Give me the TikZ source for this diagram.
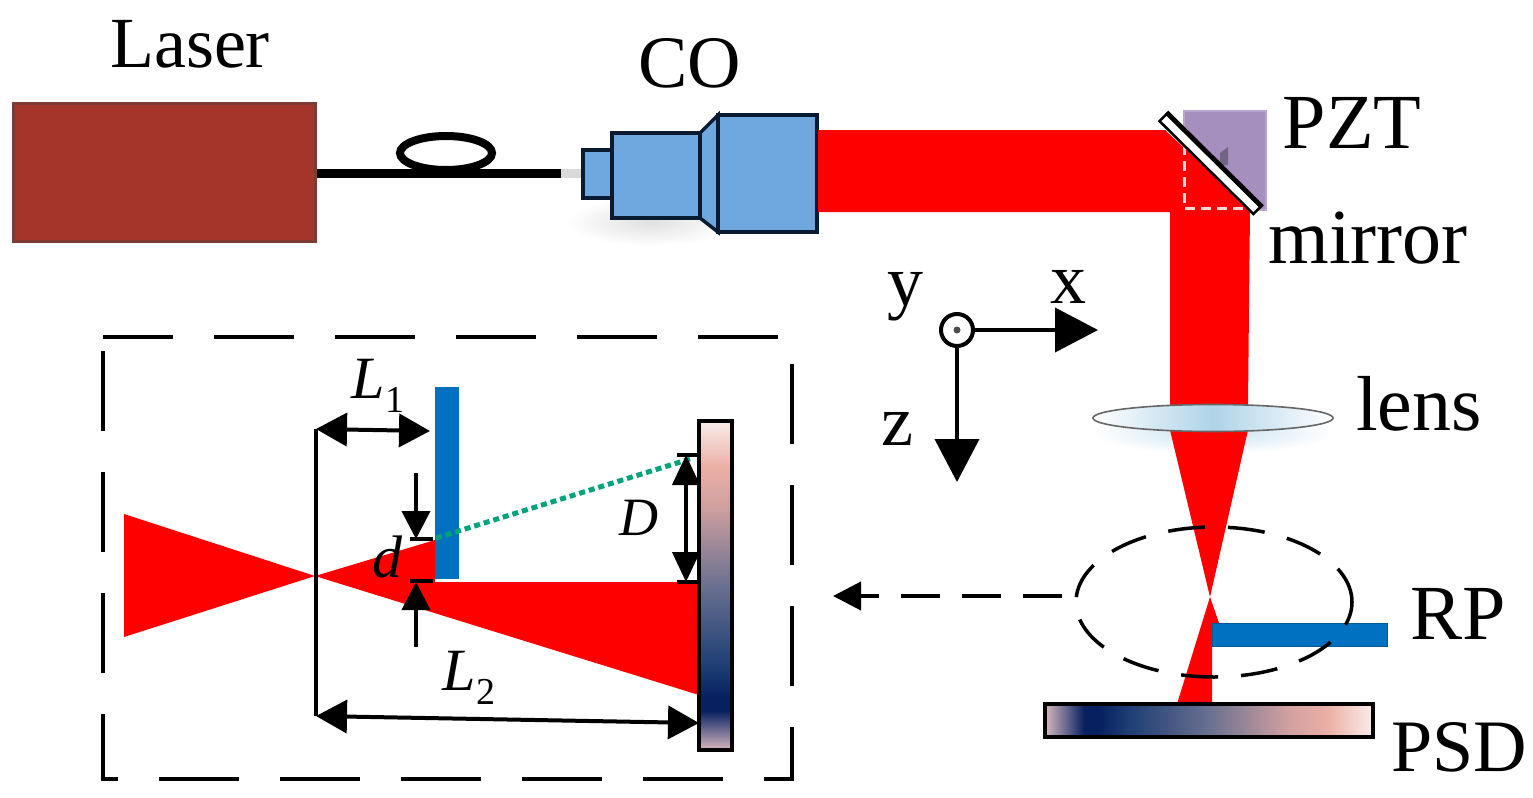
\documentclass[tikz,border=0pt]{standalone}
\usepackage{fontspec}
\setmainfont{Liberation Serif}
\usetikzlibrary{arrows.meta,shapes.geometric}
\definecolor{lasercol}{HTML}{A5342B}
\definecolor{laseredge}{HTML}{7E3A34}
\definecolor{cocol}{HTML}{6FA8DF}
\definecolor{coedge}{HTML}{0A1A30}
\definecolor{pztcol}{HTML}{A48FBF}
\definecolor{rpcol}{HTML}{0070C0}
\definecolor{rayred}{HTML}{FF0000}
\definecolor{raygreen}{HTML}{00A37A}
\definecolor{lensblue}{HTML}{AFD3E8}
\definecolor{psda}{HTML}{D8B8C0}
\definecolor{psdb}{HTML}{062060}
\definecolor{psdc}{HTML}{1F3F75}
\definecolor{psdd}{HTML}{6A7090}
\definecolor{psde}{HTML}{D0A0A0}
\definecolor{psdf}{HTML}{EBAFA5}
\definecolor{psdg}{HTML}{FAEDEA}
\pgfdeclarehorizontalshading{psdbar}{100bp}{color(0bp)=(psda); color(25bp)=(psda); color(31bp)=(psdb); color(33bp)=(psdb); color(38bp)=(psdc); color(50bp)=(psdd); color(62bp)=(psde); color(68bp)=(psdf); color(75bp)=(psdg); color(100bp)=(psdg)}
\pgfdeclarehorizontalshading{lensbar}{100bp}{color(0bp)=(white); color(25bp)=(white); color(50bp)=(lensblue); color(75bp)=(white); color(100bp)=(white)}
\newcommand{\lowidx}[1]{\raisebox{-7pt}{\fontsize{19pt}{19pt}\selectfont\normalfont #1}}
\tikzset{
  part/.style={draw=coedge,line width=1.75pt,inner sep=0pt},
  lbl/.style={font=\fontsize{39pt}{39pt}\selectfont,inner sep=0pt,anchor=base},
  axislbl/.style={font=\fontsize{36pt}{36pt}\selectfont,inner sep=0pt,anchor=base},
  sym/.style={font=\fontsize{30pt}{30pt}\selectfont\itshape,inner sep=0pt,anchor=base},
  dim/.style={line width=2pt},
  bigtip/.style={-{Triangle[length=21.5pt,width=22pt]}},
  doubletip/.style={{Triangle[length=15.5pt,width=16.5pt]}-{Triangle[length=15.5pt,width=16.5pt]}},
  smalltip/.style={-{Triangle[length=14pt,width=14pt]}},
  tick/.style={line width=1.75pt},
}
\begin{document}
\begin{tikzpicture}[x=0.5pt,y=-0.5pt]
\useasboundingbox (0,0) rectangle (1533,798);
% laser and fibre
\node[part,draw=laseredge,line width=1.5pt,fill=lasercol,minimum width=151pt,minimum height=69pt] (laser) at (164,172) {};
\node[lbl,font=\fontsize{36pt}{36pt}\selectfont] (lasertxt) at (190,67) {Laser};
\fill[black!15] (561,169) rectangle (583,178);
\draw[line width=4pt] (446,153) ellipse (46 and 17);
\coordinate (fibreend) at (561,173);
\draw[line width=4.5pt] (laser.east |- fibreend) -- (fibreend);
% collimator
\shade[inner color=black!12,outer color=white] (650,222) ellipse (85 and 24);
\node[part,fill=cocol,minimum width=14.5pt,minimum height=24pt] (costub) at (597.5,174) {};
\node[part,fill=cocol,minimum width=44pt,minimum height=42.5pt] (comid) at (656,175.5) {};
\draw[part,fill=cocol] (700,133) -- (718,115) -- (718,232) -- (700,218) -- cycle;
\node[part,fill=cocol,minimum width=49.5pt,minimum height=58.5pt] (cobig) at (767.5,173.5) {};
\node[lbl,font=\fontsize{37pt}{37pt}\selectfont] (cotxt) at (690,87) {CO};
% PZT and beams
\node[draw=pztcol!80!white,fill=pztcol,line width=1pt,inner sep=0pt,minimum width=41pt,minimum height=49.5pt] (pzt) at (1224.5,160) {};
\fill[pztcol!70!black] (1220,165) -- (1220,153) -- (1228,147) -- (1228,165) -- cycle;
\shade[inner color=lensblue!70,outer color=white] (1213,432) ellipse (122 and 22);
\fill[rayred] (818,130) -- (1165,130) -- (1250,210) -- (1248,405) -- (1170,405) -- (1170,212) -- (818,212) -- cycle;
\draw[white!85!red,line width=1.5pt,dash pattern=on 5pt off 3pt] (1184,145) -- (1184,208) -- (1248,208);
\node[draw=black,fill=white,line width=1.25pt,inner sep=0pt,minimum width=66pt,minimum height=5pt,rotate=-44.7] (mirror) at (1210,164) {};
\draw[line width=2.25pt] (mirror.north west) -- (mirror.north east);
\fill[rayred] (1170,430) -- (1248,430) -- (1210,597) -- cycle;
\fill[rayred] (1210,597) -- (1219,623) -- (1212,623) -- (1212,704) -- (1177,704) -- cycle;
\node[ellipse,draw=black!60,line width=0.8pt,shading=lensbar,inner sep=0pt,minimum width=120pt,minimum height=13.5pt] (lens) at (1213,418) {};
\node[lbl] (pzttxt) at (1352,148) {PZT};
\node[lbl] (mirrortxt) at (1368,263) {mirror};
\node[lbl] (lenstxt) at (1419,430) {lens};
% sample region
\node[fill=rpcol,draw=rpcol!80!black,line width=0.5pt,inner sep=0pt,minimum width=87.5pt,minimum height=11.5pt] (rp) at (1299.5,634.5) {};
\node[part,draw=black,line width=2pt,shading=psdbar,minimum width=164pt,minimum height=16.5pt] (psd) at (1209,720.5) {};
\node[lbl] (rptxt) at (1458,639) {RP};
\node[lbl,font=\fontsize{37pt}{37pt}\selectfont] (psdtxt) at (1459,771) {PSD};
\node[ellipse,draw=black,line width=1.75pt,dash pattern=on 18.5pt off 11.5pt,inner sep=0pt,minimum width=138pt,minimum height=75pt] (zone) at (1214,602) {};
\coordinate (insetport) at (833,596);
\coordinate (zoneport) at (1062,596);
\draw[line width=2pt,dash pattern=on 19.5pt off 11pt,-{Triangle[length=14pt,width=14pt]}] (zoneport) -- (insetport);
% axes
\node[circle,draw=black,line width=2pt,fill=white,inner sep=0pt,minimum size=16pt] (origin) at (957,330) {};
\node[circle,fill=black!70,inner sep=0pt,minimum size=3.5pt] (origindot) at (957,330) {};
\coordinate (xend) at (1098,330);
\coordinate (zend) at (957,482);
\draw[dim,bigtip] (origin) -- (xend);
\draw[dim,bigtip] (origin) -- (zend);
\node[axislbl] (ytxt) at (905,305) {y};
\node[axislbl] (xtxt) at (1068,303) {x};
\node[axislbl] (ztxt) at (897,445) {z};
% inset
\draw[line width=2pt,dash pattern=on 40pt off 20.5pt,dash phase=5pt] (103,337) -- (792,337) -- (792,779) -- (103,779) -- cycle;
\fill[rayred] (124,514) -- (124,637) -- (315,576) -- cycle;
\fill[rayred] (315,576) -- (435,540) -- (435,582) -- (699,582) -- (699,695) -- cycle;
\node[fill=rpcol,inner sep=0pt,minimum width=12pt,minimum height=96pt] (rpin) at (447,483) {};
\node[part,draw=black,line width=2pt,shading=psdbar,shading angle=90,minimum width=16.5pt,minimum height=164.5pt] (psdin) at (715.5,585.5) {};
\coordinate (gtop) at (693,458);
\coordinate (gbot) at (436,538);
\draw[raygreen,line width=2.5pt,dash pattern=on 3pt off 2pt] (gbot) -- (gtop);
% dimensions
\coordinate (vtop) at (316,429);
\coordinate (vbot) at (316,716);
\draw[dim] (vtop) -- (vbot);
\coordinate (l1end) at (430,431);
\coordinate (l2end) at (699,723);
\draw[dim,doubletip] (vtop) -- (l1end);
\draw[dim,doubletip] (vbot) -- (l2end);
\coordinate (dtopa) at (416,473);
\coordinate (dtopb) at (416,539);
\coordinate (dbota) at (416,647);
\coordinate (dbotb) at (416,582);
\draw[dim,smalltip] (dtopa) -- (dtopb);
\draw[dim,smalltip] (dbota) -- (dbotb);
\draw[tick] (410,539) -- (433,539);
\draw[tick] (410,581) -- (433,581);
\coordinate (bigdtop) at (686,455);
\coordinate (bigdbot) at (686,582);
\draw[dim,{Triangle[length=15pt,width=13.5pt]}-{Triangle[length=15pt,width=13.5pt]}] (bigdtop) -- (bigdbot);
\draw[tick] (677,455) -- (697,455);
\draw[tick] (677,582) -- (699,582);
\node[sym] (l1txt) at (378,398) {L\lowidx{1}};
\node[sym] (l2txt) at (469,690) {L\lowidx{2}};
\node[sym] (dtxt) at (387,577) {d};
\node[sym,font=\fontsize{27pt}{27pt}\selectfont\itshape] (bigdtxt) at (639,535) {D};
\end{tikzpicture}
\end{document}
